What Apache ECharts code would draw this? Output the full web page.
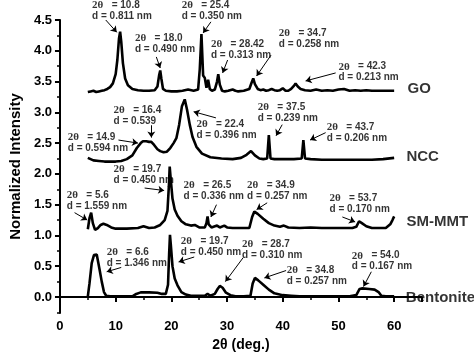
<!DOCTYPE html>
<html><head><meta charset="utf-8">
<script src="https://cdn.jsdelivr.net/npm/echarts@6/dist/echarts.min.js"></script>
<style>html,body{margin:0;padding:0;background:#fff}#c{width:474px;height:360px}</style>
</head><body><div id="c"></div>
<script>
// ---- data (2θ in degrees, normalized intensity with offsets) ----
var xGO = [5,5.5,6,6.5,7,7.5,8,8.5,9,9.5,10,10.3,10.6,10.8,11.0,11.3,11.7,12.2,13,14,15,16,17,17.5,17.8,18.0,18.2,18.5,19,20,21,22,23,24,24.8,25.1,25.4,25.7,26.0,26.3,26.6,26.9,27.3,27.8,28.2,28.42,28.7,29.1,29.6,30.2,31,31.5,32,33,34,34.4,34.7,35.0,35.5,36,36.5,37,37.5,38,38.5,39,39.5,40,40.5,41,41.5,42,42.3,42.7,43.2,44,45,46,47,48,49,50,51,52,53,54,55,56,57,58,59,60];
var yGO = [3.33,3.34,3.35,3.33,3.34,3.35,3.36,3.38,3.41,3.47,3.62,3.85,4.2,4.31,4.15,3.8,3.55,3.44,3.38,3.36,3.35,3.35,3.36,3.42,3.6,3.68,3.55,3.38,3.35,3.34,3.34,3.35,3.37,3.35,3.37,3.7,4.27,3.6,3.56,3.4,3.53,3.38,3.35,3.37,3.5,3.62,3.45,3.35,3.34,3.35,3.37,3.35,3.34,3.35,3.38,3.48,3.55,3.46,3.38,3.36,3.37,3.35,3.36,3.38,3.36,3.35,3.36,3.39,3.35,3.35,3.38,3.43,3.47,3.42,3.38,3.36,3.35,3.37,3.35,3.36,3.35,3.37,3.38,3.35,3.36,3.35,3.36,3.35,3.35,3.35,3.35,3.35];

var xNCC = [5,6,7,8,9,10,11,12,13,13.8,14.5,14.9,15.5,16.0,16.4,16.9,17.5,18.0,18.6,19.2,19.8,20.4,20.9,21.4,21.9,22.4,22.8,23.3,23.8,24.5,25.5,27,29,31,32.5,33.5,34.3,35.0,35.8,36.5,37.2,37.5,37.8,38.5,40,42,43.4,43.7,44.0,45,47,50,53,56,58,60];
var yNCC = [2.26,2.22,2.21,2.20,2.20,2.20,2.21,2.24,2.30,2.42,2.50,2.53,2.53,2.52,2.52,2.47,2.40,2.37,2.35,2.36,2.42,2.50,2.58,2.80,3.10,3.21,3.05,2.80,2.60,2.44,2.33,2.27,2.25,2.24,2.26,2.31,2.37,2.30,2.25,2.24,2.25,2.63,2.25,2.24,2.24,2.24,2.25,2.55,2.25,2.24,2.23,2.23,2.23,2.23,2.24,2.26];

var xSM = [5,5.3,5.6,5.9,6.3,6.8,7.3,7.8,8.4,9.2,10,12,14,15,16,17,18,18.8,19.3,19.55,19.7,19.9,20.2,20.6,21.1,21.8,22.6,23.5,24.2,25,26,26.3,26.5,26.7,27.2,28.2,28.7,29.5,30,31,32,33,34,34.5,34.9,35.5,36.5,37.5,38.5,39.5,40.2,41,43,45,47,49,51,52.5,53.2,53.7,54.2,55,56,57,58.5,59.3,59.7,60];
var ySM = [1.10,1.28,1.37,1.20,1.09,1.12,1.17,1.19,1.17,1.13,1.11,1.11,1.12,1.15,1.12,1.13,1.17,1.25,1.40,1.80,2.12,1.90,1.60,1.42,1.32,1.23,1.18,1.16,1.17,1.13,1.13,1.20,1.31,1.18,1.13,1.16,1.13,1.16,1.13,1.12,1.12,1.12,1.12,1.30,1.39,1.35,1.27,1.20,1.16,1.14,1.16,1.13,1.12,1.13,1.12,1.12,1.12,1.12,1.14,1.23,1.20,1.15,1.12,1.12,1.12,1.18,1.25,1.31];

var xBEN = [5,5.3,5.7,6.1,6.6,7.1,7.5,7.9,8.3,9,11,13,13.7,14.5,16,17.5,18.3,19.0,19.4,19.6,19.75,19.9,20.2,20.6,21.1,21.8,22.6,23.5,24.5,26,26.5,27,27.8,28.3,28.7,29.2,29.8,30.6,31.5,33,34.2,34.6,35.0,35.6,36.5,37.5,38.5,40,41.5,43,46,50,52,53.2,53.8,54.3,55.5,56.5,57.2,57.7,58.5,60];
var yBEN = [0.01,0.22,0.55,0.68,0.69,0.45,0.25,0.08,0.02,0.01,0.01,0.01,0.05,0.075,0.075,0.07,0.05,0.05,0.20,0.70,1.01,0.85,0.50,0.30,0.19,0.08,0.04,0.02,0.02,0.02,0.05,0.02,0.05,0.13,0.18,0.15,0.07,0.03,0.01,0.01,0.02,0.22,0.31,0.27,0.20,0.12,0.06,0.03,0.02,0.01,0.01,0.01,0.01,0.03,0.13,0.14,0.13,0.12,0.08,0.02,0.01,0.01];

var seriesNames = ['GO','NCC','SM-MMT','Bentonite'];
var yTickValues = [0,0.5,1,1.5,2,2.5,3,3.5,4,4.5];
var yMinorValues = [-0.25,0,0.25,0.5,0.75,1,1.25,1.5,1.75,2,2.25,2.5,2.75,3,3.25,3.5,3.75,4,4.25,4.5];

// peak annotations: angle, d-spacing
var annAngle = ['10.8','18.0','25.4','28.42','34.7','42.3','16.4','14.9','22.4','37.5','43.7','5.6','19.7','26.5','34.9','53.7','6.6','19.7','28.7','34.8','54.0'];
var annD = ['0.811 nm','0.490 nm','0.350 nm','0.313 nm','0.258 nm','0.213 nm','0.539','0.594 nm','0.396 nm','0.239 nm','0.206 nm','1.559 nm','0.450 nm','0.336 nm','0.257 nm','0.170 nm','1.346 nm','0.450 nm','0.310 nm','0.257 nm','0.167 nm'];
// annotation placement (data coordinates, top-left of text)
var annPos = [[5.77,4.83],[13.46,4.30],[21.85,4.83],[27.1,4.19],[39.3,4.38],[50.0,3.83],[9.62,3.13],[1.40,2.68],[24.5,2.90],[35.5,3.18],[47.9,2.85],[1.22,1.75],[9.62,2.16],[22.2,1.90],[33.6,1.90],[48.4,1.69],[8.39,0.82],[21.7,0.99],[32.7,0.95],[40.7,0.52],[52.4,0.76]];
var arrowFrom = [[8.22,4.50],[17.3,3.90],[27.1,4.47],[30.1,3.85],[37.9,3.93],[49.5,3.64],[16.4,2.79],[10.5,2.55],[28.0,2.91],[39.9,2.80],[47.7,2.67],[2.62,1.37],[15.2,1.77],[28.1,1.50],[37.2,1.53],[50.7,1.30],[11.0,0.48],[24.1,0.65],[32.9,0.64],[40.6,0.43],[55.9,0.41]];
var arrowTo = [[10.2,4.30],[18.0,3.72],[25.7,4.29],[29.2,3.64],[35.3,3.59],[44.1,3.51],[16.4,2.59],[14.0,2.50],[24.0,3.01],[38.8,2.62],[44.9,2.55],[4.90,1.25],[18.7,1.73],[27.1,1.30],[35.3,1.42],[53.0,1.22],[8.39,0.41],[21.3,0.57],[29.7,0.25],[36.7,0.31],[54.5,0.17]];
var namePos = [[62.4,3.38],[62.2,2.28],[62.2,1.22],[62.1,-0.01]];

function zip(a,b){return a.map(function(v,i){return [v,b[i]];});}

var chart = echarts.init(document.getElementById('c'), null, {renderer:'canvas'});
var lineStyle = {color:'#000', width:2.6};
function lineSeries(name, xs, ys){
  return {name:name, type:'line', data:zip(xs,ys), showSymbol:false, symbol:'none',
    lineStyle:lineStyle, itemStyle:{color:'#000'}, smooth:false, silent:true, z:3};
}
var annData = annPos.map(function(p,i){
  return {value:p, label:{formatter:'{t|2θ}{n|   = '+annAngle[i]+'}\n{n|d = '+annD[i]+'}'}};
});
var arrows = arrowFrom.map(function(p,i){return [{coord:p},{coord:arrowTo[i]}];});
var nameData = namePos.map(function(p,i){return {value:p, label:{formatter:seriesNames[i]}};});

chart.setOption({
  animation:false,
  backgroundColor:'#fff',
  grid:{left:50, right:52, top:20, bottom:47, containLabel:false},
  xAxis:{type:'value', min:0, max:65, interval:10,
    name:'2θ (deg.)', nameLocation:'middle', nameGap:25,
    nameTextStyle:{fontFamily:'Liberation Sans, Arial', fontWeight:'bold', fontSize:14, color:'#000'},
    axisLine:{show:true, lineStyle:{color:'#000', width:2}},
    axisTick:{show:true, inside:false, length:5, lineStyle:{color:'#000', width:2}},
    minorTick:{show:true, splitNumber:2, length:3, lineStyle:{color:'#000', width:1.5}},
    axisLabel:{fontFamily:'Liberation Sans, Arial', fontWeight:'bold', fontSize:13, color:'#000', margin:7,
      formatter:function(v){return v<=60?String(v):'';}},
    splitLine:{show:false}},
  yAxis:[{type:'value', min:-0.26, max:4.5,
    name:'Normalized Intensity', nameLocation:'middle', nameGap:25,
    nameTextStyle:{fontFamily:'Liberation Sans, Arial', fontWeight:'bold', fontSize:15, color:'#000'},
    axisLine:{show:true, lineStyle:{color:'#000', width:2}},
    axisTick:{show:true, length:5, customValues:yTickValues, lineStyle:{color:'#000', width:2}},
    axisLabel:{customValues:yTickValues, fontFamily:'Liberation Sans, Arial', fontWeight:'bold', fontSize:13, color:'#000', margin:8,
      formatter:function(v){return v.toFixed(1);}},
    splitLine:{show:false}},
   {type:'value', min:-0.26, max:4.5, position:'left',
    axisLine:{show:false},
    axisTick:{show:true, length:3, customValues:yMinorValues, lineStyle:{color:'#000', width:1.5}},
    axisLabel:{show:false}, splitLine:{show:false}}],
  series:[
    lineSeries(seriesNames[0], xGO, yGO),
    lineSeries(seriesNames[1], xNCC, yNCC),
    lineSeries(seriesNames[2], xSM, ySM),
    lineSeries(seriesNames[3], xBEN, yBEN),
    {type:'scatter', data:annData, symbolSize:0, clip:false, silent:true, z:5,
      itemStyle:{color:'transparent'},
      label:{show:true, position:[0,0], align:'left', verticalAlign:'top', color:'#000',
        fontFamily:'Liberation Sans, Arial', fontWeight:'bold', fontSize:10, lineHeight:11,
        rich:{t:{fontFamily:'Liberation Serif, Times New Roman', fontWeight:'bold', fontSize:11, lineHeight:11, color:'#000'},
              n:{fontFamily:'Liberation Sans, Arial', fontWeight:'bold', fontSize:10, lineHeight:11, color:'#000'}}},
      markLine:{silent:true, symbol:['none','arrow'], symbolSize:6, precision:4,
        label:{show:false}, emphasis:{disabled:true},
        lineStyle:{color:'#000', width:1, type:'solid'}, data:arrows}},
    {type:'scatter', data:nameData, symbolSize:0, clip:false, silent:true, z:5,
      itemStyle:{color:'transparent'},
      label:{show:true, position:[0,0], align:'left', verticalAlign:'middle', color:'#000',
        fontFamily:'Liberation Sans, Arial', fontWeight:'bold', fontSize:15}}
  ]
});
</script></body></html>
